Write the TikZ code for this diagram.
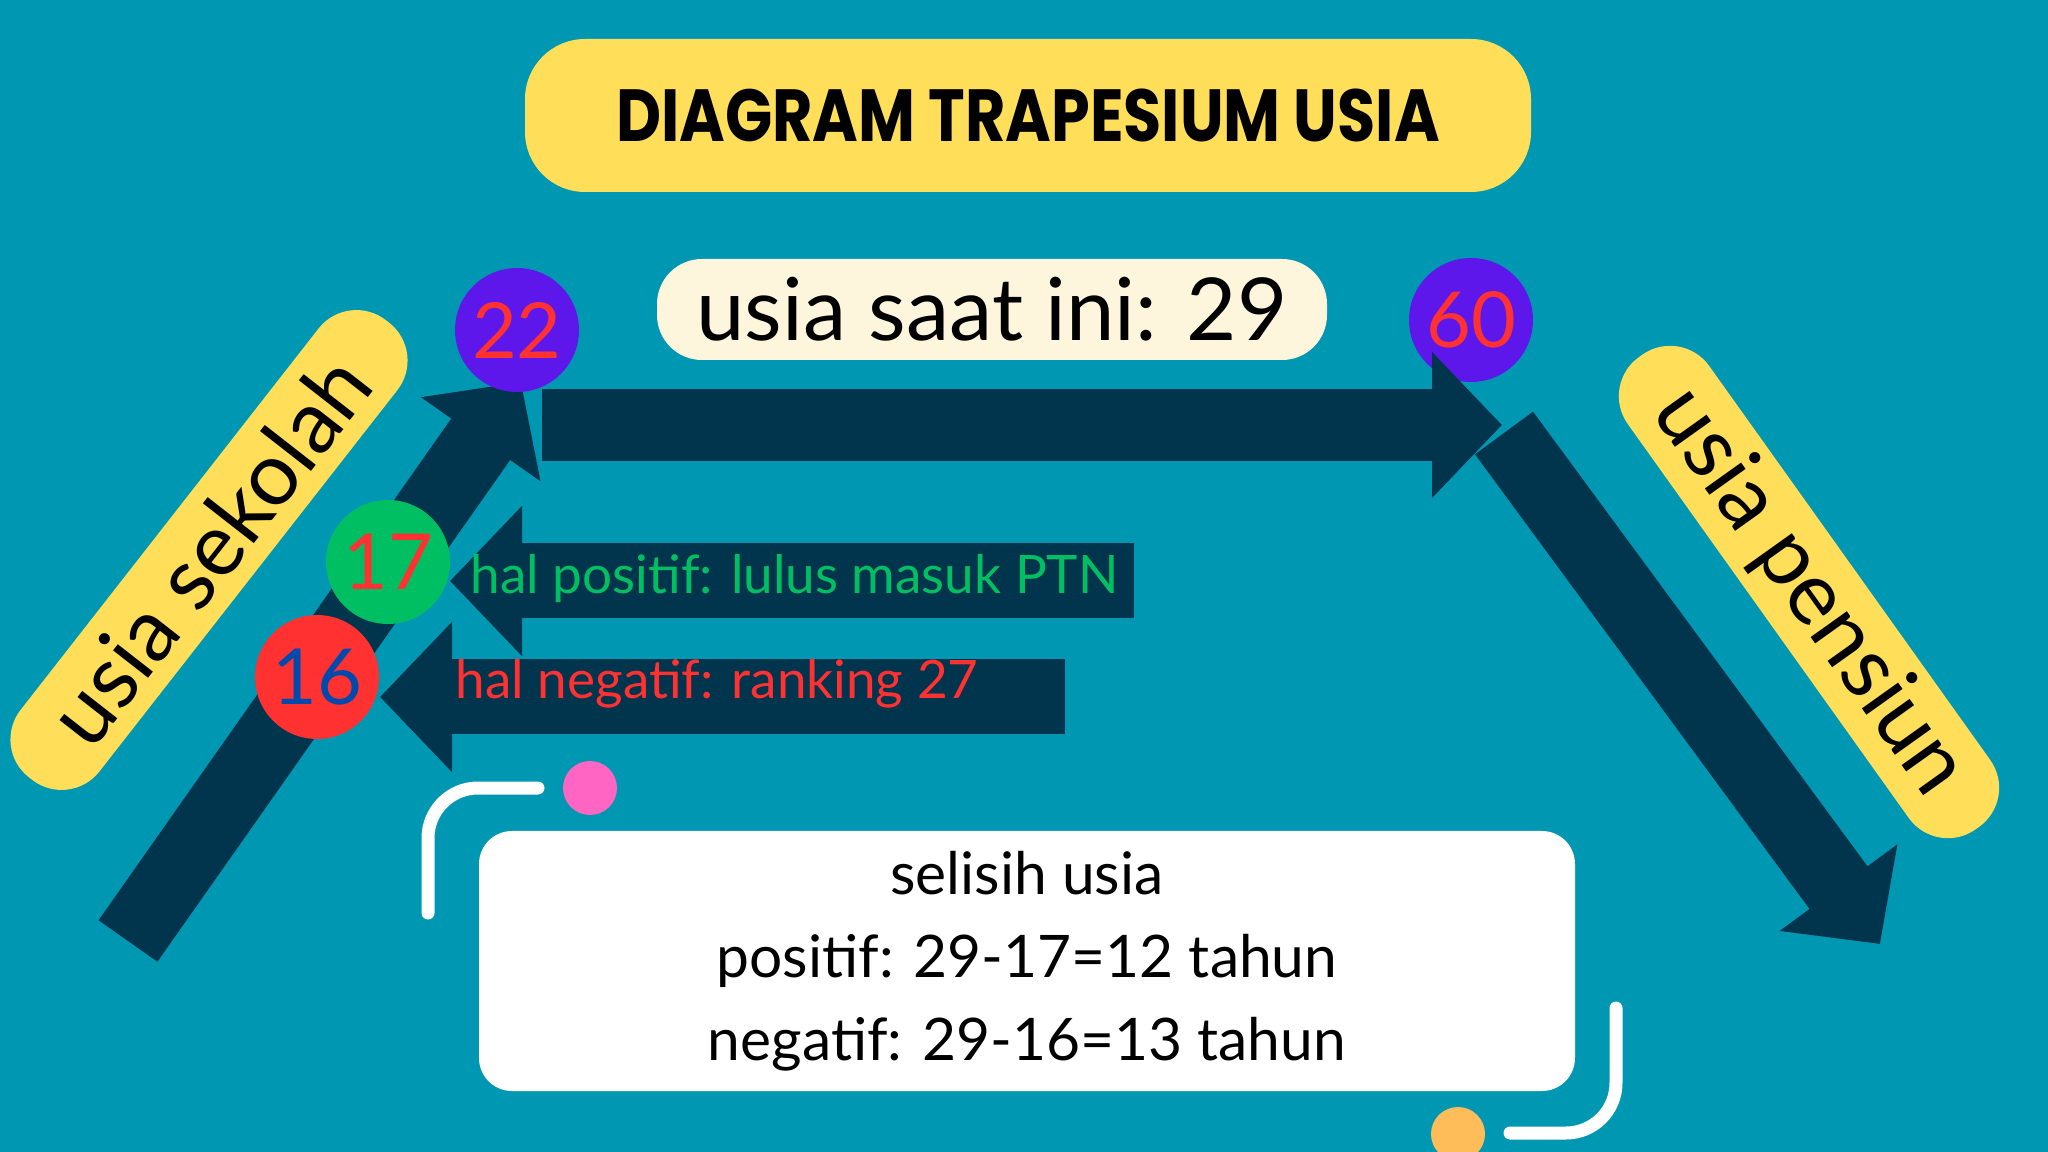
\documentclass[tikz,border=0pt]{standalone}
\usepackage{fontspec}
\setmainfont{Lato}
\newfontfamily\titlefont{Poppins}
\usetikzlibrary{arrows.meta}
\definecolor{bgteal}{RGB}{0,151,178}
\definecolor{navy}{RGB}{1,52,77}
\definecolor{sunyellow}{RGB}{255,222,89}
\definecolor{cream}{RGB}{253,246,221}
\definecolor{violet22}{RGB}{94,23,235}
\definecolor{red31}{RGB}{255,49,49}
\definecolor{green63}{RGB}{0,191,99}
\definecolor{blue16}{RGB}{0,74,173}
\definecolor{pinkdot}{RGB}{255,102,196}
\definecolor{orangedot}{RGB}{255,189,89}
\begin{document}
\begin{tikzpicture}[
    bigarrow/.style={draw=navy,line width=0.72cm,-{Triangle[length=0.7cm,width=1.42cm]}},
    backarrow/.style={draw=navy,line width=0.75cm,-{Triangle[length=0.72cm,width=1.46cm]}},
    agecircle/.style={circle,inner sep=0pt,minimum size=1.24cm,font=\fontsize{22}{24}\selectfont},
    phasebox/.style={fill=sunyellow,rounded corners=0.48cm,minimum width=5.8cm,minimum height=1.0cm,
      inner sep=0pt,font=\fontsize{25}{28}\selectfont},
    armlabel/.style={anchor=west,inner sep=0pt,font=\fontsize{15.1}{17}\selectfont}
  ]
  \useasboundingbox (0,0) rectangle (20.48,-11.52);
  \fill[bgteal] (0,0) rectangle (20.48,-11.52);

  % title and current age
  \node[fill=sunyellow,rounded corners=0.6cm,minimum width=10.06cm,minimum height=1.53cm,
    font=\fontsize{21}{24}\titlefont\bfseries] (title) at (10.28,-1.155)
    {\scalebox{0.84}[1]{DIAGRAM TRAPESIUM USIA}};
  \node[fill=cream,rounded corners=0.45cm,minimum width=6.70cm,minimum height=1.01cm,
    font=\fontsize{24.7}{28}\selectfont] (now) at (9.92,-3.095) {usia saat ini: 29};

  % phase labels
  \node[phasebox,rotate=52] (sekolah) at (2.09,-5.50) {usia sekolah};
  \node[phasebox,rotate=-54.5] (pensiun) at (18.09,-5.92) {usia pensiun};

  % trapezium
  \coordinate (schoolstart) at (1.28,-9.41);
  \coordinate (schoolend) at (5.21,-3.82);
  \coordinate (workstart) at (5.42,-4.25);
  \coordinate (workend) at (15.02,-4.25);
  \coordinate (retirestart) at (15.04,-4.33);
  \coordinate (retireend) at (18.80,-9.44);
  \draw[bigarrow] (schoolstart) -- (schoolend);
  \node[agecircle,fill=violet22,text=red31] (n22) at (5.17,-3.30) {22};
  \node[agecircle,fill=violet22,text=red31] (n60) at (14.71,-3.20) {60};
  \draw[bigarrow] (workstart) -- (workend);
  \draw[bigarrow] (retirestart) -- (retireend);

  % events
  \coordinate (posstart) at (11.34,-5.81);
  \coordinate (posend) at (4.50,-5.81);
  \coordinate (negstart) at (10.65,-6.97);
  \coordinate (negend) at (3.80,-6.97);
  \draw[backarrow] (posstart) -- (posend);
  \draw[backarrow] (negstart) -- (negend);
  \node[agecircle,fill=green63,text=red31] (n17) at (3.88,-5.62) {17};
  \node[agecircle,fill=red31,text=blue16] (n16) at (3.17,-6.77) {16};
  \node[armlabel,text=green63] (poslabel) at (4.70,-5.79) {hal positif: lulus masuk PTN};
  \node[armlabel,text=red31] (neglabel) at (4.55,-6.84) {hal negatif: ranking 27};

  % difference
  \node[fill=white,rounded corners=0.33cm,minimum width=10.96cm,minimum height=2.60cm,
    align=center,font=\fontsize{16.7}{23.6}\selectfont] (selisih) at (10.27,-9.61)
    {selisih usia\\positif: 29-17=12 tahun\\negatif: 29-16=13 tahun};

  % ornaments
  \draw[white,line width=0.13cm,line cap=round,rounded corners=0.5cm]
    (4.28,-9.13) -- (4.28,-7.88) -- (5.38,-7.88);
  \draw[white,line width=0.13cm,line cap=round,rounded corners=0.5cm]
    (16.16,-10.08) -- (16.16,-11.33) -- (15.10,-11.33);
  \fill[pinkdot] (5.90,-7.88) circle (0.27);
  \fill[orangedot] (14.58,-11.34) circle (0.27);
\end{tikzpicture}
\end{document}
